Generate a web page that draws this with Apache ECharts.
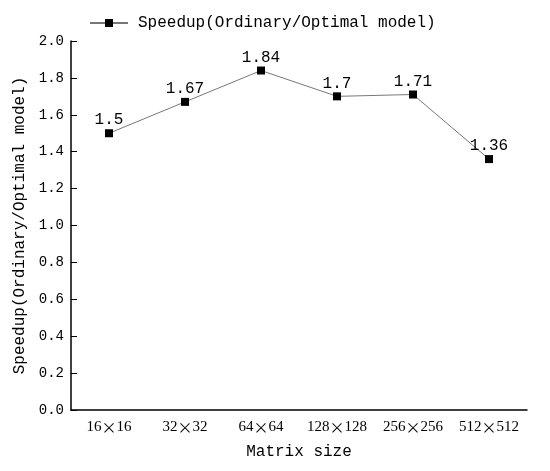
<!DOCTYPE html>
<html><head><meta charset="utf-8">
<script src="https://cdn.jsdelivr.net/npm/echarts@6/dist/echarts.min.js"></script>
<style>html,body{margin:0;padding:0;background:#fff}#c{width:550px;height:471px}</style>
</head><body><div id="c"></div>
<script>
const categories = ['16×16','32×32','64×64','128×128','256×256','512×512'];
const speedup = [1.5, 1.67, 1.84, 1.7, 1.71, 1.36];
const seriesName = 'Speedup(Ordinary/Optimal model)';
const FONT = '"Liberation Mono", "Noto Sans CJK SC", monospace';
const SERIF = '"Liberation Serif", "DejaVu Serif", serif';
const chart = echarts.init(document.getElementById('c'));
chart.setOption({
  animation: false,
  textStyle: { fontFamily: FONT, color: '#000' },
  legend: {
    left: 84, top: 10, itemWidth: 38, itemHeight: 10,
    textStyle: { fontFamily: FONT, fontSize: 16, color: '#000', padding: [0, 0, 0, 5] },
    data: [seriesName]
  },
  grid: { left: 71, right: 23, top: 41, bottom: 61 },
  xAxis: {
    type: 'category', data: categories, boundaryGap: true,
    name: 'Matrix size', nameLocation: 'middle', nameGap: 34,
    nameTextStyle: { fontFamily: FONT, fontSize: 16, color: '#000' },
    axisLine: { lineStyle: { color: '#000', width: 1.5 } },
    axisTick: { inside: true, alignWithLabel: true, length: 6, lineStyle: { color: '#000' } },
    axisLabel: {
      fontFamily: SERIF, fontSize: 15, color: '#000', margin: 10, interval: 0,
      formatter: v => v.split('×').map(s => '{d|' + s + '}').join('{x|×}'),
      rich: {
        d: { fontFamily: SERIF, fontSize: 15, color: '#000' },
        x: { fontFamily: '"Noto Sans CJK SC"', fontSize: 15, color: '#000', width: 15, align: 'center' }
      }
    },
    splitLine: { show: false }
  },
  yAxis: {
    type: 'value', min: 0, max: 2.0, interval: 0.2,
    name: seriesName, nameLocation: 'middle', nameGap: 33,
    nameTextStyle: { fontFamily: FONT, fontSize: 16, color: '#000' },
    axisLine: { show: true, lineStyle: { color: '#000', width: 1.5 } },
    axisTick: { show: true, inside: true, length: 6, lineStyle: { color: '#000' } },
    axisLabel: { fontFamily: FONT, fontSize: 14, color: '#000', margin: 7, formatter: v => v.toFixed(1) },
    splitLine: { show: false }
  },
  series: [{
    name: seriesName, type: 'line', data: speedup,
    symbol: 'rect', symbolSize: 8,
    itemStyle: { color: '#000' },
    lineStyle: { color: '#777', width: 1 },
    label: { show: true, position: 'top', distance: 1, fontFamily: FONT, fontSize: 16, color: '#000' }
  }]
});
</script></body></html>
